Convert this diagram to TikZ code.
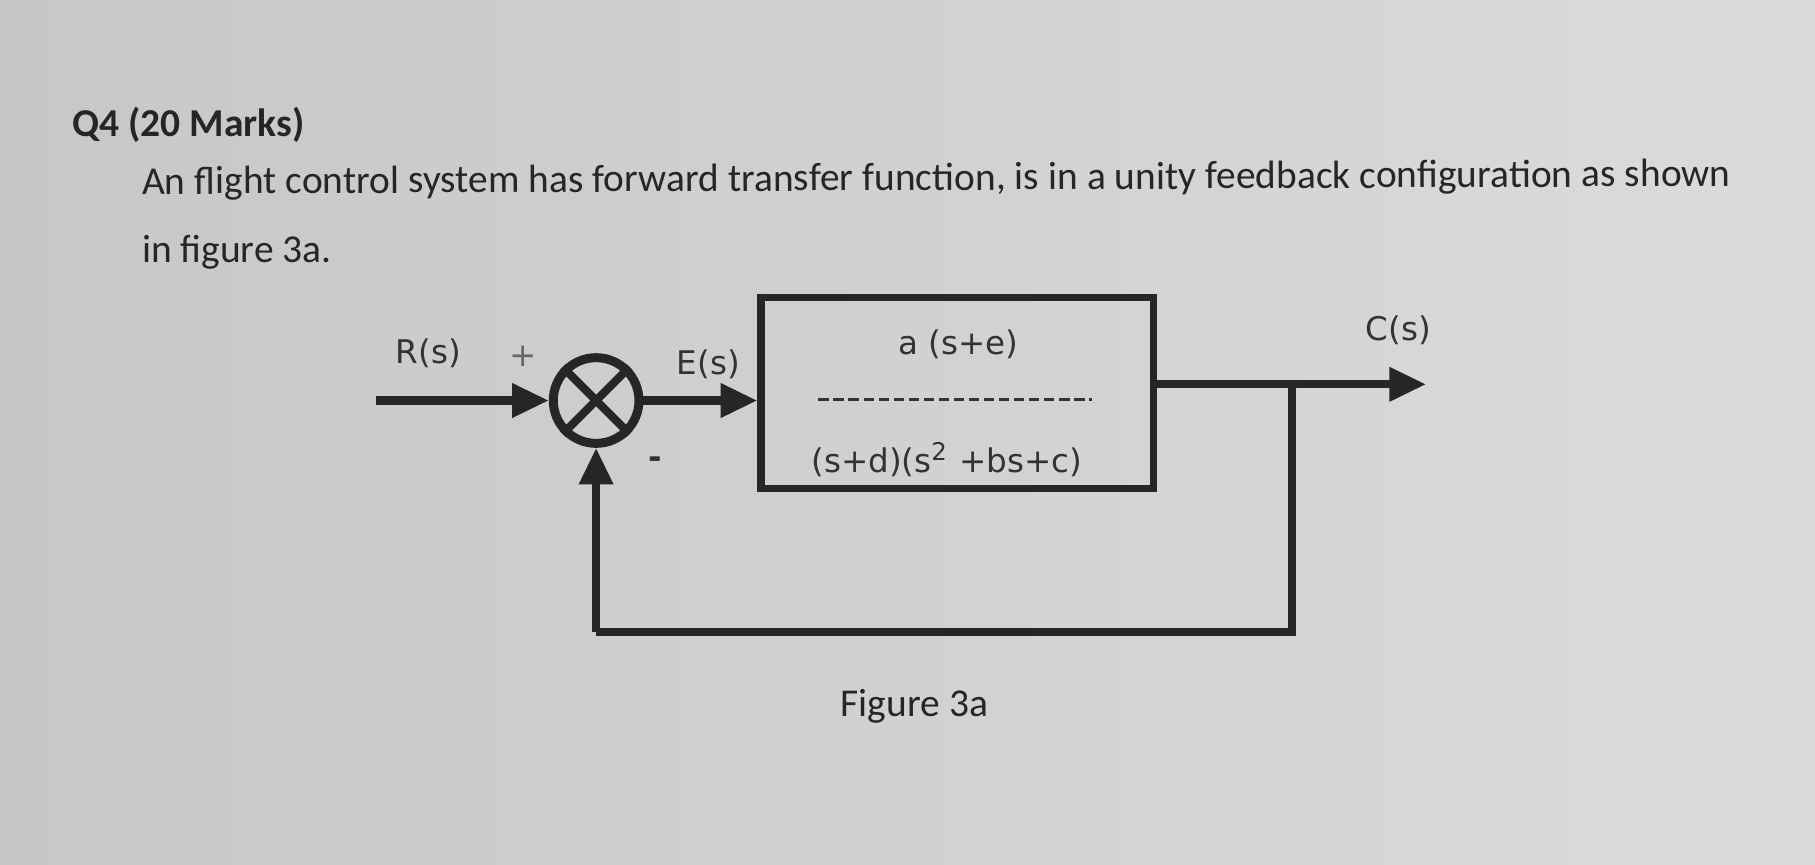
\documentclass[tikz,border=0pt]{standalone}
\usepackage{fontspec}
\setmainfont{Carlito}
\newfontfamily\dv{DejaVu Sans}
\usetikzlibrary{arrows.meta}
\begin{document}
\begin{tikzpicture}[x=0.01cm,y=-0.01cm,
  wire/.style={line width=2pt,draw=black!85},
  arr/.style={wire,-{Triangle[length=9pt,width=8pt]}},
  body/.style={font=\fontsize{9.7}{11}\selectfont,text=black!85,inner sep=0pt},
  lab/.style={font=\dv\fontsize{8}{9}\selectfont,text=black!80,inner sep=0pt}]
\shade[left color=black!22,right color=black!14] (0,0) rectangle (1568,747);
\useasboundingbox (0,0) rectangle (1568,747);
\node[body,anchor=west,font=\bfseries\fontsize{9.7}{11}\selectfont] (q) at (62,108) {Q4 (20 Marks)};
\node[body,anchor=west,rotate=0.3] (t1) at (122,159) {An flight control system has forward transfer function, is in a unity feedback configuration as shown};
\node[body,anchor=west] (t2) at (122,218) {in figure 3a.};
\coordinate (in) at (325,346);
\node[circle,draw=black!85,line width=2.2pt,minimum size=74pt*0.2845,inner sep=0pt] (sum) at (515,346) {};
\draw[wire] (sum.north west)--(sum.south east) (sum.north east)--(sum.south west);
\node[draw=black!85,line width=1.8pt,minimum width=339*0.2845pt,minimum height=165*0.2845pt] (G) at (827,339.5) {};
\node[lab] (num) at (828,297) {a (s+e)};
\node[lab] (den) at (818,397) {(s+d)(s\textsuperscript{2} +bs+c)};
\draw[line width=0.6pt,black!80,dash pattern=on 2.5pt off 1.2pt] (707,345)--(943,345);
\node[lab] (R) at (370,305) {R(s)};
\node[lab,text=black!60] (plus) at (452,308) {+};
\node[lab] (minus) at (566,400) {\textbf{-}};
\node[lab] (E) at (612,315) {E(s)};
\node[lab] (C) at (1208,285) {C(s)};
\coordinate (out) at (1232,332);
\coordinate (br) at (1116,332);
\coordinate (fb1) at (1116,546);
\coordinate (fb2) at (515,546);
\draw[arr] (in) -- (sum.west);
\draw[arr] (sum.east) -- (G.west |- sum.east);
\draw[arr] (G.east |- br) -- (out);
\draw[wire] (br) -- (fb1) -- (fb2);
\draw[arr] (fb2) -- (sum.south);
\node[body] (fig) at (790,610) {Figure 3a};
\end{tikzpicture}
\end{document}
